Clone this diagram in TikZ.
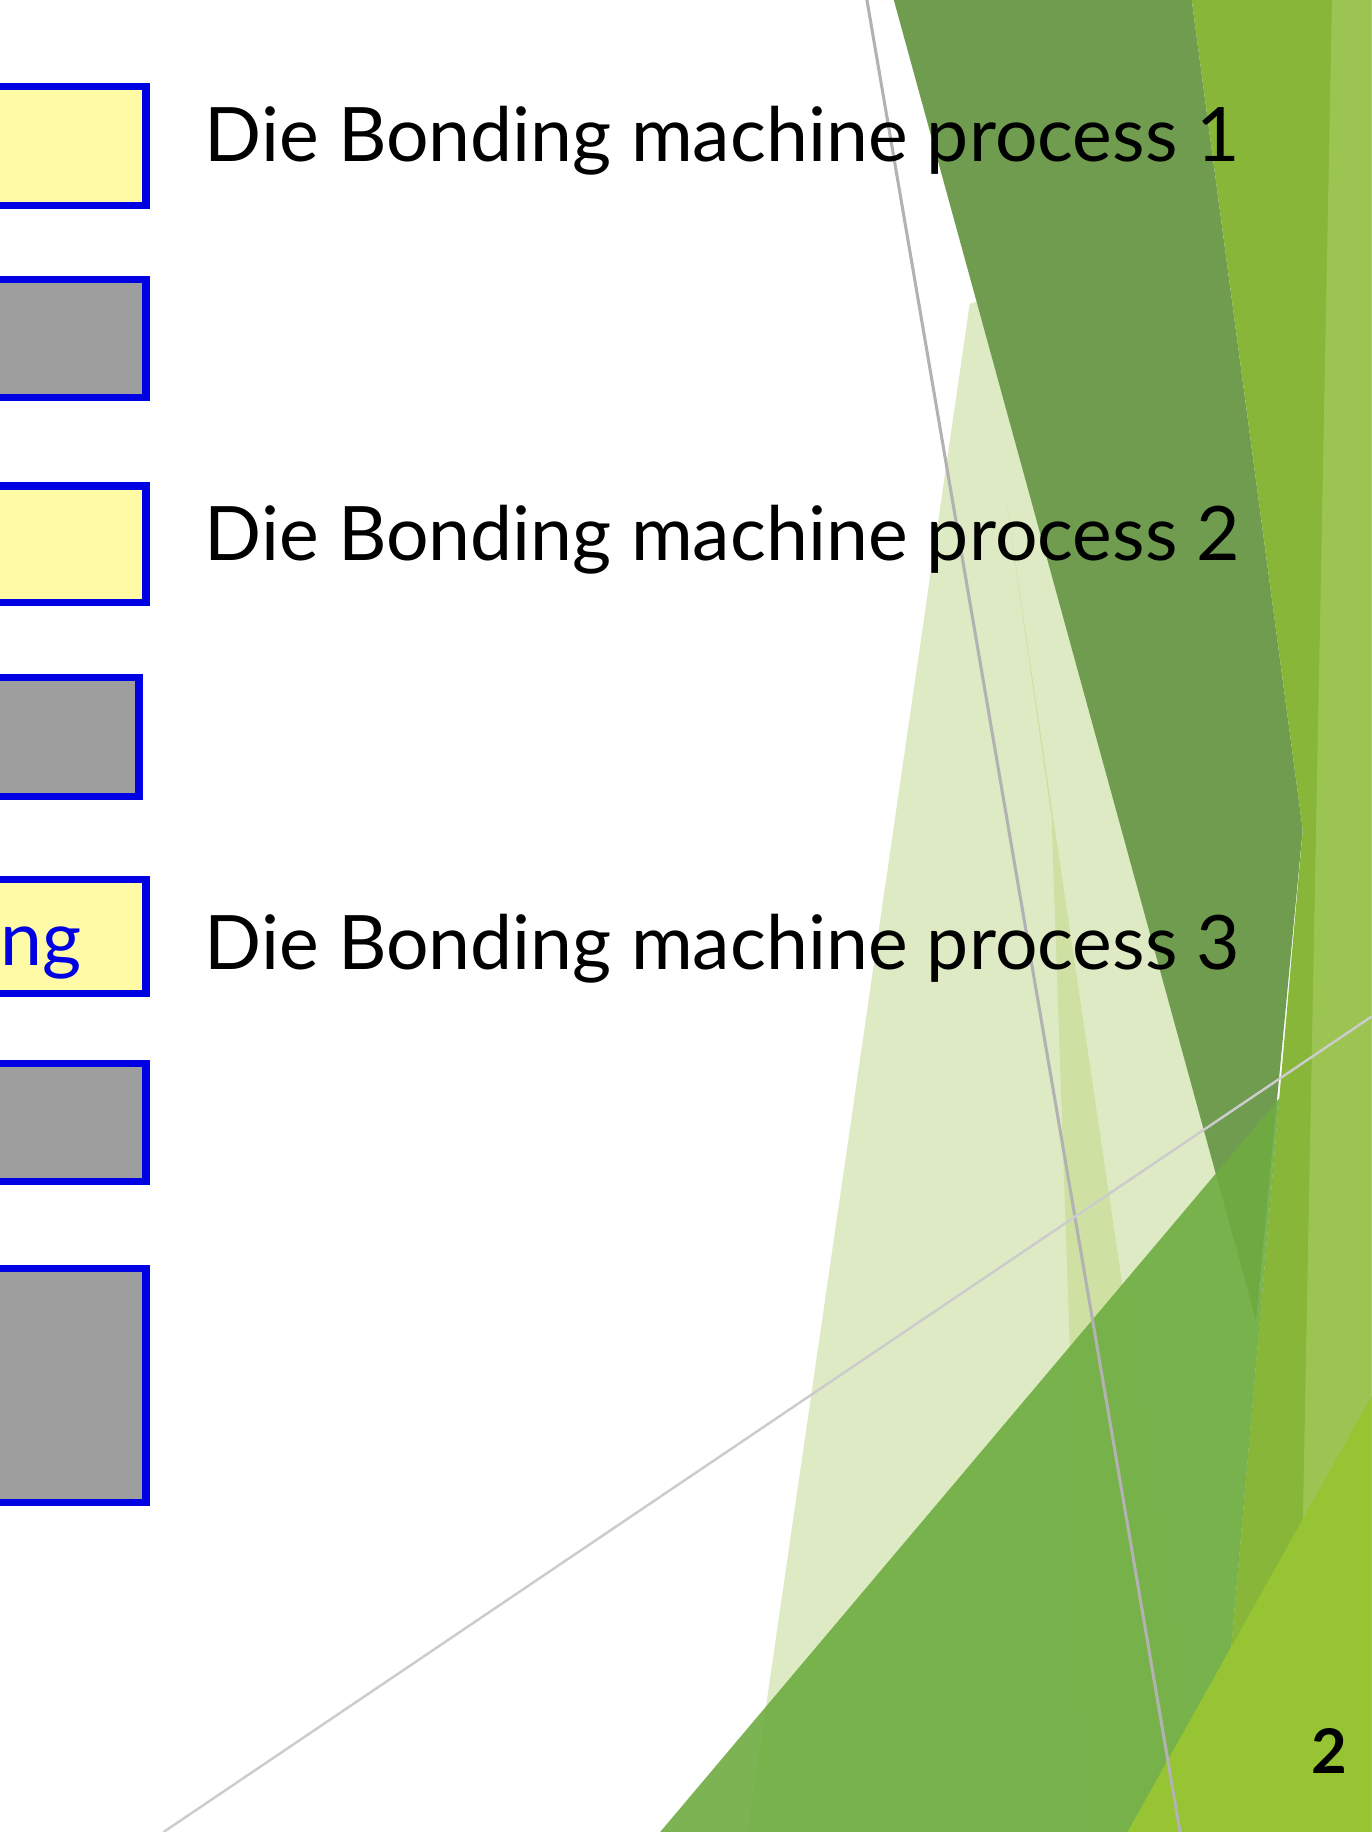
\documentclass[tikz,border=0pt]{standalone}
\usepackage{fontspec}
\setmainfont{Lato}
\begin{document}
\begin{tikzpicture}[x=0.02cm,y=-0.02cm,
  bx/.style={draw=blue!90!black,line width=3.5pt},
  yb/.style={bx,fill=yellow!35},
  gb/.style={bx,fill=black!38},
  lbl/.style={anchor=base west,inner sep=0pt,font=\fontsize{36.6}{40}\selectfont}]
\useasboundingbox (0,0) rectangle (1174,1568);
\clip (0,0) rectangle (1174,1568);
% green backdrop
\fill[color={rgb,255:red,222;green,234;blue,196}] (830,260) -- (900,240) -- (1174,1568) -- (640,1568) -- cycle;
\fill[color={rgb,255:red,200;green,222;blue,150},opacity=0.7] (860,420) -- (1030,1568) -- (930,1568) -- (900,700) -- cycle;
\fill[color={rgb,255:red,112;green,156;blue,80}] (765,0) -- (1020,0) -- (1115,710) -- (1075,1130) -- cycle;
\fill[color={rgb,255:red,136;green,182;blue,56}] (1020,0) -- (1174,0) -- (1174,1568) -- (1040,1568) -- (1115,710) -- cycle;
\fill[color={rgb,255:red,160;green,200;blue,90},opacity=0.8] (1140,0) -- (1174,0) -- (1174,1568) -- (1110,1568) -- cycle;
\fill[color={rgb,255:red,110;green,172;blue,64},opacity=0.9] (565,1568) -- (1095,940) -- (1040,1568) -- cycle;
\fill[color={rgb,255:red,150;green,196;blue,50}] (965,1568) -- (1174,1195) -- (1174,1568) -- cycle;
\draw[black!30,line width=1.5pt] (742,0) coordinate (la) -- (1010,1568) coordinate (lb);
\draw[black!20,line width=1.2pt] (140,1568) coordinate (lc) -- (1174,870) coordinate (ld);
% boxes
\path[yb] (-20,74) rectangle (125,176);
\path[gb] (-20,239) rectangle (125,340);
\path[yb] (-20,416) rectangle (125,516);
\path[gb] (-20,580) rectangle (119,682);
\path[yb] (-20,753) rectangle (125,850);
\path[gb] (-20,910) rectangle (125,1011);
\path[gb] (-20,1086) rectangle (125,1286);
\node[lbl,text=blue!90!black] (ng) at (0,826) {ng};
\node[lbl] (t1) at (175,138) {Die Bonding machine process 1};
\node[lbl] (t2) at (175,480) {Die Bonding machine process 2};
\node[lbl] (t3) at (175,830) {Die Bonding machine process 3};
\node[anchor=base east,inner sep=0pt,font=\bfseries\fontsize{30}{32}\selectfont] (pg) at (1153,1518) {2};
\end{tikzpicture}
\end{document}
